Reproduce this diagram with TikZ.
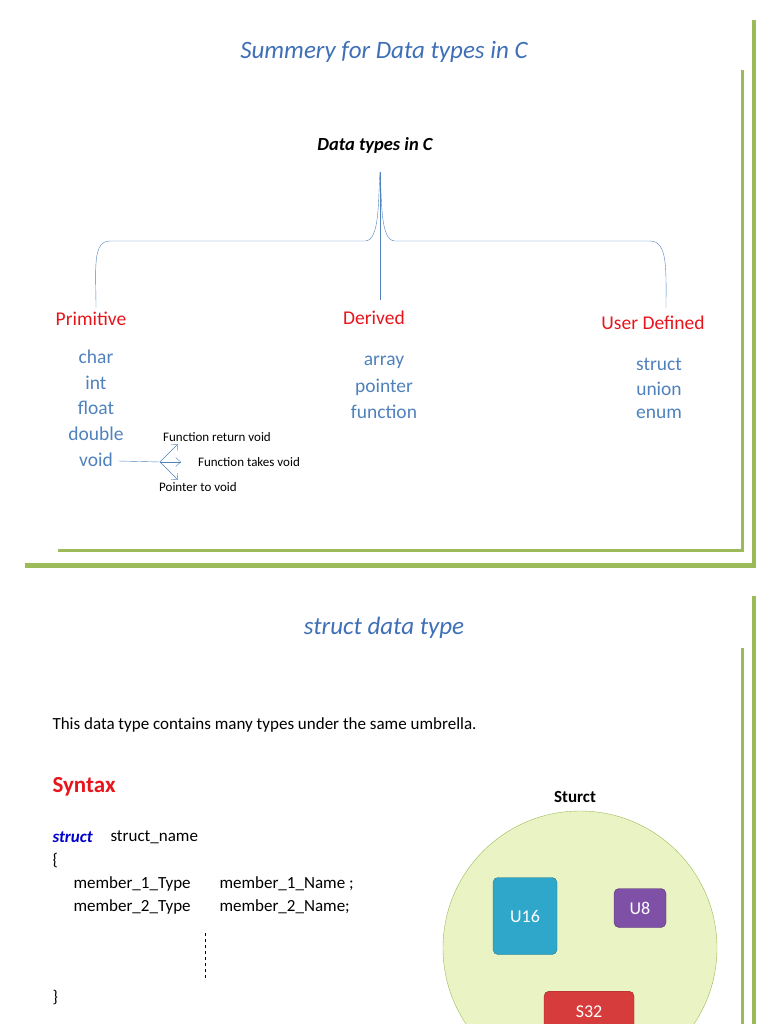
\documentclass[tikz,border=0pt]{standalone}
\usepackage{fontspec}
\setmainfont{Carlito}
\usetikzlibrary{arrows.meta}
\definecolor{gbar}{HTML}{9BBB59}
\definecolor{tblue}{HTML}{3F6FB6}
\definecolor{iblue}{HTML}{4F81BD}
\definecolor{rtxt}{HTML}{E8141B}
\definecolor{cfill}{HTML}{EAF3C4}
\definecolor{ctea}{HTML}{2FA7CB}
\definecolor{cpur}{HTML}{7E50A6}
\definecolor{cred}{HTML}{D63C3C}
\tikzset{
  bar/.style={gbar,line width=#1},
  cat/.style={text=rtxt,font=\fontsize{19.5}{22}\selectfont},
  item/.style={text=iblue,font=\fontsize{19.5}{22}\selectfont},
  small/.style={font=\fontsize{13}{15}\selectfont},
  code/.style={anchor=west,font=\fontsize{17}{19}\selectfont},
  box/.style={rounded corners=5pt,draw=#1!70!black,fill=#1,text=white,font=\fontsize{18}{20}\selectfont},
}
\begin{document}
\begin{tikzpicture}[x=1pt,y=-1pt]
\useasboundingbox (0,0) rectangle (768,1024);
% slide frames
\draw[bar=4pt] (754,20) -- (754,568);
\draw[bar=3pt] (742,70) -- (742,550);
\draw[bar=5pt] (25,565) -- (756,565);
\draw[bar=3pt] (58,550) -- (744,550);
\draw[bar=4pt] (754,596) -- (754,1024);
\draw[bar=3pt] (742,648) -- (742,1024);
% slide 1
\node[text=tblue,font=\itshape\fontsize{25}{27}\selectfont] (t1) at (384,52) {Summery for Data types in C};
\node[font=\bfseries\itshape\fontsize{18.5}{20}\selectfont] (root) at (375,145) {Data types in C};
\node[cat] (prim) at (91,319) {Primitive};
\node[cat] (der) at (374,318) {Derived};
\node[cat] (ud) at (653,323) {User Defined};
\coordinate (top) at (380,172);
\draw[iblue,thin] (96,308) .. controls (96,270) and (92,241) .. (110,241) -- (365,241) .. controls (380,241) and (378,200) .. (top)
  .. controls (382,200) and (380,241) .. (395,241) -- (650,241) .. controls (668,241) and (666,270) .. (666,308);
\draw[iblue,thin] (top) -- (380,300);
\node[item] (i1) at (96,357) {char};
\node[item] (i2) at (96,383) {int};
\node[item] (i3) at (96,408) {float};
\node[item] (i4) at (96,434) {double};
\node[item] (void) at (96,460) {void};
\node[item] (d1n) at (384,362) {array};
\node[item] (d2n) at (384,387) {pointer};
\node[item] (d3n) at (384,412) {function};
\node[item] (u1n) at (659,364) {struct};
\node[item] (u2n) at (659,389) {union};
\node[item] (u3n) at (659,414) {enum};
\coordinate (fork) at (160,462);
\node[small] (f1) at (217,437) {Function return void};
\node[small] (f2) at (249,462) {Function takes void};
\node[small] (f3) at (198,487) {Pointer to void};
\draw[iblue] (void.east)++(2,1) -- (fork);
\draw[iblue,-{Straight Barb[length=5pt,width=9pt]}] (fork) -- (178,444);
\draw[iblue,-{Straight Barb[length=5pt,width=9pt]}] (fork) -- (181,462);
\draw[iblue,-{Straight Barb[length=5pt,width=9pt]}] (fork) -- (178,480);
% slide 2
\node[text=tblue,font=\itshape\fontsize{25}{27}\selectfont] (t2) at (384,628) {struct data type};
\node[code] (desc) at (49,725) {This data type contains many types under the same umbrella.};
\node[anchor=west,text=rtxt,font=\bfseries\fontsize{23}{25}\selectfont] (syn) at (49,787) {Syntax};
\node[code,text=blue!80!black,font=\bfseries\itshape\fontsize{17}{19}\selectfont] (kw) at (49,837) {struct};
\node[code] (sn) at (107,837) {struct\_name};
\node[code] (ob) at (49,861) {\{};
\node[code] (m1) at (70,884) {member\_1\_Type};
\node[code] (n1) at (216,884) {member\_1\_Name ;};
\node[code] (m2) at (70,907) {member\_2\_Type};
\node[code] (n2) at (216,907) {member\_2\_Name;};
\coordinate (d1) at (205,933);
\coordinate (d2) at (205,980);
\draw[thick,dashed] (d1) -- (d2);
\node[code] (cb) at (49,998) {\}};
\node[font=\bfseries\fontsize{17}{19}\selectfont] (st) at (575,797) {Sturct};
\node[circle,draw=gbar,fill=cfill,minimum size=274pt,inner sep=0pt] (circ) at (580,948) {};
\node[box=ctea,minimum width=64pt,minimum height=77pt] (u16) at (525,916) {U16};
\node[box=cpur,minimum width=52pt,minimum height=39pt] (u8) at (640,908) {U8};
\node[box=cred,minimum width=90pt,minimum height=42pt,anchor=north] (s32) at (589,991) {S32};
\end{tikzpicture}
\end{document}
